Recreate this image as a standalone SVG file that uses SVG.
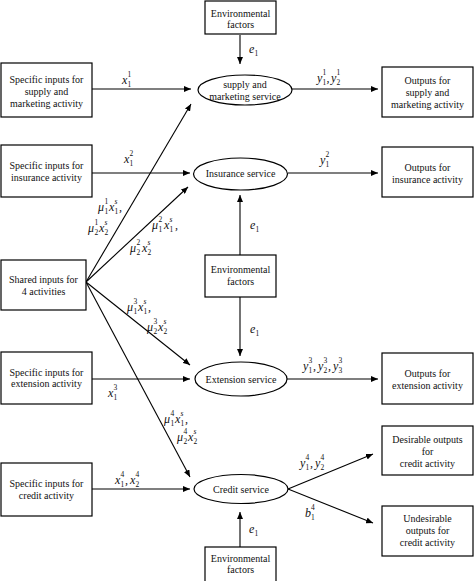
<svg xmlns="http://www.w3.org/2000/svg" width="474" height="581" viewBox="0 0 474 581">
<style>
.bx{fill:#fff;stroke:#000;stroke-width:1.2}
.el{fill:#fff;stroke:#000;stroke-width:1.2}
text{font-family:'Liberation Serif','Times New Roman','DejaVu Serif',serif;fill:#111}
.t{font-size:10px;text-anchor:middle}
.mi{font-style:italic;font-size:12px}
.sc{font-size:7.5px}
.si{font-size:7.5px;font-style:italic}
.ln{stroke:#000;stroke-width:1.1;fill:none;marker-end:url(#ah)}
</style>
<defs>
<marker id="ah" markerUnits="userSpaceOnUse" markerWidth="7" markerHeight="6" refX="7" refY="3" orient="auto">
<path d="M0,0 L7,3 L0,6 z" fill="#000"/>
</marker>
</defs>
<rect width="474" height="581" fill="#fff"/>

<g id="connectors">
<line class="ln" x1="240" y1="35" x2="240" y2="64"/>
<line class="ln" x1="92" y1="89" x2="191" y2="89"/>
<line class="ln" x1="292" y1="89" x2="378" y2="89"/>
<line class="ln" x1="92" y1="173" x2="190" y2="173"/>
<line class="ln" x1="288" y1="173" x2="378" y2="173"/>
<line class="ln" x1="240" y1="255" x2="240" y2="195"/>
<line class="ln" x1="240" y1="297" x2="240" y2="356"/>
<line class="ln" x1="92" y1="379" x2="190" y2="379"/>
<line class="ln" x1="287" y1="379" x2="378" y2="379"/>
<line class="ln" x1="92" y1="489" x2="190" y2="489"/>
<line class="ln" x1="288" y1="489" x2="373" y2="454"/>
<line class="ln" x1="288" y1="489" x2="373" y2="523"/>
<line class="ln" x1="240" y1="547" x2="240" y2="512"/>
<line class="ln" x1="86" y1="282" x2="191" y2="104"/>
<line class="ln" x1="86" y1="282" x2="188" y2="187"/>
<line class="ln" x1="86" y1="282" x2="190" y2="365"/>
<line class="ln" x1="86" y1="282" x2="190" y2="477"/>
</g>

<g id="env-top"><rect class="bx" x="205" y="1" width="71" height="33"/>
<text class="t" x="240.5" y="16.5">Environmental</text><text class="t" x="240.5" y="28">factors</text></g>

<g id="spec-supply"><rect class="bx" x="1" y="63" width="91" height="54"/>
<text class="t" x="46.5" y="82.5">Specific inputs for</text><text class="t" x="46.5" y="94.5">supply and</text><text class="t" x="46.5" y="106.5">marketing activity</text></g>

<g id="supply"><ellipse class="el" cx="245" cy="90" rx="47" ry="15"/>
<text class="t" x="245" y="87.5">supply and</text><text class="t" x="245" y="99.5">marketing service</text></g>

<g id="out-supply"><rect class="bx" x="382" y="67" width="91" height="50"/>
<text class="t" x="427.5" y="83.5">Outputs for</text><text class="t" x="427.5" y="95.5">supply and</text><text class="t" x="427.5" y="107.5">marketing activity</text></g>

<g id="spec-insurance"><rect class="bx" x="1" y="145" width="91" height="52"/>
<text class="t" x="46.5" y="168.5">Specific inputs for</text><text class="t" x="46.5" y="180.5">insurance activity</text></g>

<g id="insurance"><ellipse class="el" cx="240.5" cy="174" rx="47" ry="16"/>
<text class="t" x="240.5" y="176.5">Insurance service</text></g>

<g id="out-insurance"><rect class="bx" x="382" y="147" width="91" height="50"/>
<text class="t" x="427.5" y="170.5">Outputs for</text><text class="t" x="427.5" y="182.5">insurance activity</text></g>

<g id="shared"><rect class="bx" x="1" y="260" width="85" height="50"/>
<text class="t" x="43.5" y="282.5">Shared inputs for</text><text class="t" x="43.5" y="294.5">4 activities</text></g>

<g id="env-mid"><rect class="bx" x="205" y="255" width="71" height="42"/>
<text class="t" x="240.5" y="272.5">Environmental</text><text class="t" x="240.5" y="285">factors</text></g>

<g id="spec-extension"><rect class="bx" x="1" y="352" width="91" height="52"/>
<text class="t" x="46.5" y="375.5">Specific inputs for</text><text class="t" x="46.5" y="387">extension activity</text></g>

<g id="extension"><ellipse class="el" cx="241" cy="379" rx="46" ry="17"/>
<text class="t" x="241" y="382.5">Extension service</text></g>

<g id="out-extension"><rect class="bx" x="382" y="353" width="91" height="51"/>
<text class="t" x="427.5" y="376.5">Outputs for</text><text class="t" x="427.5" y="388.5">extension activity</text></g>

<g id="desirable"><rect class="bx" x="382" y="426" width="91" height="49"/>
<text class="t" x="427.5" y="442.5">Desirable outputs</text><text class="t" x="427.5" y="454.5">for</text><text class="t" x="427.5" y="466.5">credit activity</text></g>

<g id="spec-credit"><rect class="bx" x="1" y="463" width="91" height="53"/>
<text class="t" x="46.5" y="486.5">Specific inputs for</text><text class="t" x="46.5" y="498.5">credit activity</text></g>

<g id="credit"><ellipse class="el" cx="241" cy="489" rx="47" ry="14.5"/>
<text class="t" x="241" y="492.5">Credit service</text></g>

<g id="undesirable"><rect class="bx" x="382" y="506" width="91" height="50"/>
<text class="t" x="427.5" y="521.5">Undesirable</text><text class="t" x="427.5" y="533.5">outputs for</text><text class="t" x="427.5" y="545.5">credit activity</text></g>

<g id="env-bottom"><rect class="bx" x="205" y="547" width="71" height="40"/>
<text class="t" x="240.5" y="561.5">Environmental</text><text class="t" x="240.5" y="573">factors</text></g>

<g id="labels">
<text class="mi" x="249" y="53">e</text><text class="sc" x="254.5" y="55.5">1</text>
<text class="mi" x="122" y="84">x</text><text class="sc" x="127.5" y="77">1</text><text class="sc" x="127.5" y="86.5">1</text>
<text class="mi" x="317" y="82">y</text><text class="sc" x="322.5" y="75">1</text><text class="sc" x="322.5" y="84.5">1</text>
<text class="mi" x="326.5" y="82">,</text>
<text class="mi" x="331" y="82">y</text><text class="sc" x="336.5" y="75">1</text><text class="sc" x="336.5" y="84.5">2</text>
<text class="mi" x="124" y="163">x</text><text class="sc" x="129.5" y="156">2</text><text class="sc" x="129.5" y="165.5">1</text>
<text class="mi" x="320" y="164">y</text><text class="sc" x="325.5" y="157">2</text><text class="sc" x="325.5" y="166.5">1</text>
<text class="mi" x="98" y="211">μ</text><text class="sc" x="104.5" y="204">1</text><text class="sc" x="104.5" y="213.5">1</text>
<text class="mi" x="109" y="211">x</text><text class="si" x="114.5" y="204">s</text><text class="sc" x="114.5" y="213.5">1</text><text class="mi" x="119" y="211">,</text>
<text class="mi" x="88" y="232">μ</text><text class="sc" x="94.5" y="225">1</text><text class="sc" x="94.5" y="234.5">2</text>
<text class="mi" x="99" y="232">x</text><text class="si" x="104.5" y="225">s</text><text class="sc" x="104.5" y="234.5">2</text>
<text class="mi" x="152" y="229">μ</text><text class="sc" x="158.5" y="222">2</text><text class="sc" x="158.5" y="231.5">1</text>
<text class="mi" x="164" y="229">x</text><text class="si" x="169.5" y="222">s</text><text class="sc" x="169.5" y="231.5">1</text><text class="mi" x="175" y="229">,</text>
<text class="mi" x="130" y="252">μ</text><text class="sc" x="136.5" y="245">2</text><text class="sc" x="136.5" y="254.5">2</text>
<text class="mi" x="142" y="252">x</text><text class="si" x="147.5" y="245">s</text><text class="sc" x="147.5" y="254.5">2</text>
<text class="mi" x="250" y="229">e</text><text class="sc" x="255.5" y="231.5">1</text>
<text class="mi" x="127" y="311">μ</text><text class="sc" x="133.5" y="304">3</text><text class="sc" x="133.5" y="313.5">1</text>
<text class="mi" x="138" y="311">x</text><text class="si" x="143.5" y="304">s</text><text class="sc" x="143.5" y="313.5">1</text><text class="mi" x="148" y="311">,</text>
<text class="mi" x="147" y="331">μ</text><text class="sc" x="153.5" y="324">3</text><text class="sc" x="153.5" y="333.5">2</text>
<text class="mi" x="158" y="331">x</text><text class="si" x="163.5" y="324">s</text><text class="sc" x="163.5" y="333.5">2</text>
<text class="mi" x="250" y="333">e</text><text class="sc" x="255.5" y="335.5">1</text>
<text class="mi" x="303" y="370">y</text><text class="sc" x="308.5" y="363">3</text><text class="sc" x="308.5" y="372.5">1</text><text class="mi" x="313" y="370">,</text>
<text class="mi" x="318" y="370">y</text><text class="sc" x="323.5" y="363">3</text><text class="sc" x="323.5" y="372.5">2</text><text class="mi" x="328" y="370">,</text>
<text class="mi" x="333" y="370">y</text><text class="sc" x="338.5" y="363">3</text><text class="sc" x="338.5" y="372.5">3</text>
<text class="mi" x="108" y="397">x</text><text class="sc" x="113.5" y="390">3</text><text class="sc" x="113.5" y="399.5">1</text>
<text class="mi" x="164" y="423">μ</text><text class="sc" x="170.5" y="416">4</text><text class="sc" x="170.5" y="425.5">1</text>
<text class="mi" x="175" y="423">x</text><text class="si" x="180.5" y="416">s</text><text class="sc" x="180.5" y="425.5">1</text><text class="mi" x="185" y="423">,</text>
<text class="mi" x="177" y="441">μ</text><text class="sc" x="183.5" y="434">4</text><text class="sc" x="183.5" y="443.5">2</text>
<text class="mi" x="188" y="441">x</text><text class="si" x="193.5" y="434">s</text><text class="sc" x="193.5" y="443.5">2</text>
<text class="mi" x="115" y="484">x</text><text class="sc" x="120.5" y="477">4</text><text class="sc" x="120.5" y="486.5">1</text><text class="mi" x="125" y="484">,</text>
<text class="mi" x="130" y="484">x</text><text class="sc" x="135.5" y="477">4</text><text class="sc" x="135.5" y="486.5">2</text>
<text class="mi" x="300" y="467">y</text><text class="sc" x="305.5" y="460">4</text><text class="sc" x="305.5" y="469.5">1</text><text class="mi" x="310" y="467">,</text>
<text class="mi" x="315" y="467">y</text><text class="sc" x="320.5" y="460">4</text><text class="sc" x="320.5" y="469.5">2</text>
<text class="mi" x="305" y="517">b</text><text class="sc" x="311" y="510">4</text><text class="sc" x="311" y="519.5">1</text>
<text class="mi" x="249" y="533">e</text><text class="sc" x="254.5" y="535.5">1</text>
</g>
</svg>
